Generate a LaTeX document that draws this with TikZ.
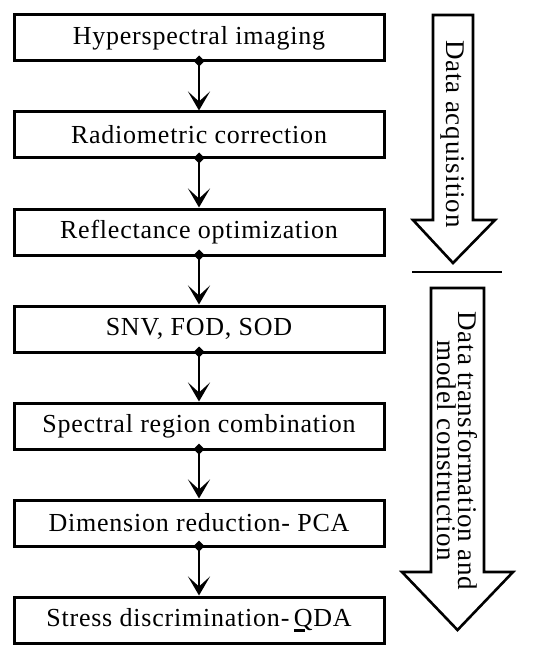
\documentclass[tikz,border=0pt]{standalone}
\usepackage{fontspec}
\setmainfont[LetterSpace=3]{Liberation Serif}
\usetikzlibrary{arrows.meta,positioning}

\begin{document}
\begin{tikzpicture}[x=1pt, y=-1pt,
  procbox/.style={draw, fill=white, line width=3pt, minimum width=370pt, minimum height=46pt, inner sep=0pt, font=\fontsize{26}{30}\selectfont},
  flow/.style={line width=2.6pt, {Turned Square[width=11pt,length=11pt]}-{Stealth[length=19pt,width=22pt,inset=10pt]}, shorten <=-7pt},
  bigarrow/.style={draw, line width=2.6pt, line join=miter},
  sidetext/.style={rotate=-90, align=center, inner sep=0pt, font=\fontsize{27}{21}\selectfont}]
  \useasboundingbox (0,0) rectangle (550,647);
  % processing steps
  \node[procbox] (hsi) at (199,38) {Hyperspectral imaging};
  \node[procbox, below=48pt of hsi] (radio) {Radiometric correction};
  \node[procbox, below=48pt of radio] (refl) {Reflectance optimization};
  \node[procbox, below=48pt of refl] (snv) {SNV, FOD, SOD};
  \node[procbox, below=48pt of snv] (region) {Spectral region combination};
  \node[procbox, below=48pt of region] (pca) {Dimension reduction- PCA};
  \node[procbox, below=48pt of pca] (qda) {Stress discrimination-\,\rlap{\rule[-5pt]{11pt}{2.6pt}}QDA};
  \path[flow]
  (hsi) edge (radio)
  (radio) edge (refl)
  (refl) edge (snv)
  (snv) edge (region)
  (region) edge (pca)
  (pca) edge (qda);
  % stage arrows
  \draw[bigarrow] (433,15) -- (473,15) -- (473,220) -- (495,220) -- (453,263) -- (413,220) -- (433,220) -- cycle;
  \node[sidetext] (acq) at (453,134) {Data acquisition};
  \draw[line width=2.6pt] (412,272) -- (502,272);
  \draw[bigarrow] (431,288) -- (484,288) -- (484,572) -- (513,572) -- (457.5,630) -- (402,572) -- (431,572) -- cycle;
  \node[sidetext] (model) at (457,451) {Data transformation and\\model construction};
\end{tikzpicture}
\end{document}
